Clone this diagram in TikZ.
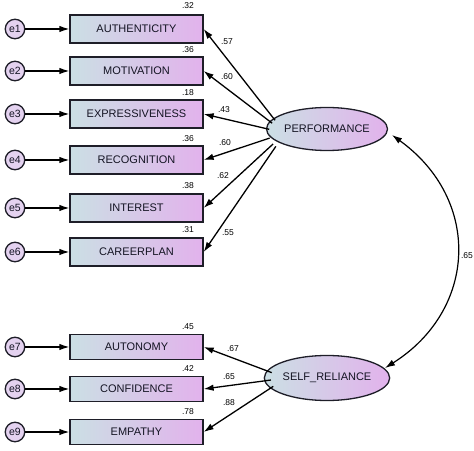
\documentclass[tikz,border=0pt]{standalone}
\usepackage{fontspec}
\setmainfont{Liberation Sans}
\usetikzlibrary{arrows.meta,shapes.geometric}
\definecolor{lft}{RGB}{203,223,228}
\definecolor{rgt}{RGB}{226,178,236}
\definecolor{efill}{RGB}{228,210,240}
\definecolor{txt}{RGB}{20,20,35}
\definecolor{edge}{RGB}{30,30,40}
\begin{document}
\begin{tikzpicture}[x=1pt,y=1pt,
  obs/.style={draw=edge,line width=1.3pt,minimum width=133pt,minimum height=28pt,inner sep=0pt,
    left color=lft,right color=rgt,text=txt,font=\fontsize{11}{12}\selectfont},
  obsl/.style={obs,minimum height=25.5pt},
  lat/.style={ellipse,draw=edge,line width=1.3pt,inner sep=0pt,
    left color=lft,right color=rgt,text=txt,font=\fontsize{11}{12}\selectfont},
  err/.style={circle,draw=edge,line width=1.3pt,fill=efill,minimum size=19.5pt,inner sep=0pt,
    text=txt,font=\fontsize{10.5}{11}\selectfont},
  hub/.style={circle,inner sep=0pt,draw=none},
  num/.style={font=\fontsize{8.5}{9}\selectfont,inner sep=0pt},
  arr/.style={-{Latex[length=10pt,width=6.5pt]},line width=1.3pt,draw=black},
  darr/.style={{Latex[length=10pt,width=6.5pt]}-{Latex[length=10pt,width=6.5pt]},line width=1.2pt,draw=black}
]
\useasboundingbox (0,0) rectangle (474,450);
% observed variables
\node[obs] (b1) at (136.5,421) {AUTHENTICITY};
\node[obs] (b2) at (136.5,379) {MOTIVATION};
\node[obs] (b3) at (136.5,336) {EXPRESSIVENESS};
\node[obs] (b4) at (136.5,290) {RECOGNITION};
\node[obs] (b5) at (136.5,242) {INTEREST};
\node[obs] (b6) at (136.5,198) {CAREERPLAN};
\node[obsl] (b7) at (136.5,103) {AUTONOMY};
\node[obsl] (b8) at (136.5,61) {CONFIDENCE};
\node[obsl] (b9) at (136.5,18) {EMPATHY};
% errors
\foreach \i/\y in {1/421,2/379,3/336,4/290,5/242,6/198,7/103,8/61,9/18}{
  \node[err] (e\i) at (15,\y) {e\i};
  \draw[arr] (e\i) -- (b\i.west);
}
% latent
\node[lat,minimum width=114pt,minimum height=43pt] (perf) at (327,321) {PERFORMANCE};
\node[lat,minimum width=110pt,minimum height=45pt] (self) at (327,72) {SELF\_RELIANCE};
\node[hub,minimum size=32pt] (ph) at (285,317) {};
\node[hub,minimum size=30pt] (sh) at (286,72) {};
\foreach \i in {1,...,6}{\draw[arr] (ph) -- (b\i.east);}
\foreach \i in {7,8,9}{\draw[arr] (sh) -- (b\i.east);}
% covariance
\coordinate (c1) at (392,315);
\coordinate (c2) at (385,82);
\draw[darr] (c1) .. controls (482,250) and (477,140) .. (c2);
\node[num] (cv) at (467,194) {.65};
% R squared
\node[num] (r1) at (188,444) {.32};
\node[num] (r2) at (188,400) {.36};
\node[num] (r3) at (188,357) {.18};
\node[num] (r4) at (188,311) {.36};
\node[num] (r5) at (188,264) {.38};
\node[num] (r6) at (188,220) {.31};
\node[num] (r7) at (188,123) {.45};
\node[num] (r8) at (188,81) {.42};
\node[num] (r9) at (188,38) {.78};
% loadings
\node[num] (l1) at (227,408) {.57};
\node[num] (l2) at (227,373) {.60};
\node[num] (l3) at (224,340) {.43};
\node[num] (l4) at (225,307) {.60};
\node[num] (l5) at (223,274) {.62};
\node[num] (l6) at (228,217) {.55};
\node[num] (l7) at (233,101) {.67};
\node[num] (l8) at (229,73) {.65};
\node[num] (l9) at (229,47) {.88};
\end{tikzpicture}
\end{document}
